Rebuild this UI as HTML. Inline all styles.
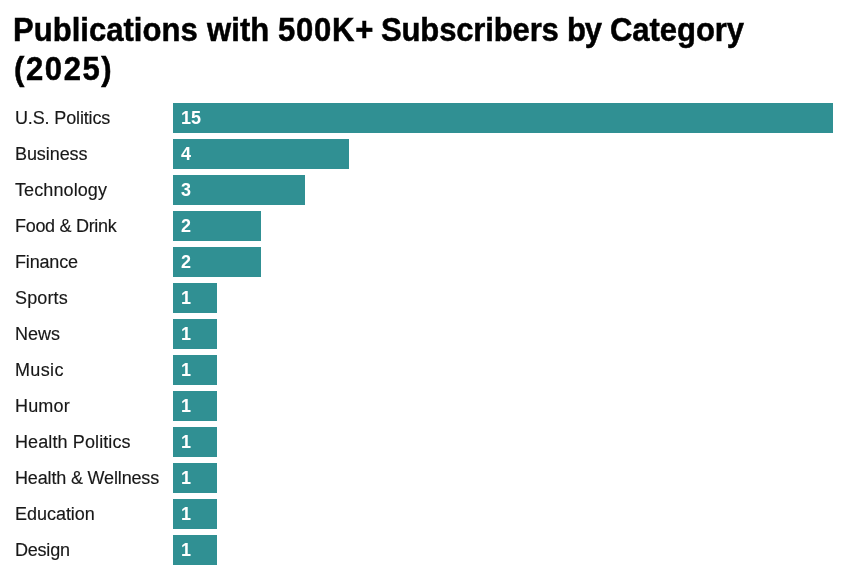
<!DOCTYPE html>
<html lang="en">
<head>
<meta charset="utf-8">
<title>Publications with 500K+ Subscribers by Category (2025)</title>
<style>
*{box-sizing:border-box;margin:0;padding:0}
html,body{width:844px;height:584px;background:#fff;overflow:hidden}
body{font-family:"Liberation Sans",sans-serif;color:#181818;position:relative}
h1{position:absolute;left:0;top:0;width:844px;height:96px;font-size:33px;font-weight:700;color:#000;-webkit-text-stroke:0.5px #000;will-change:transform}
h1 span{transform-origin:0 0;position:absolute;white-space:nowrap;line-height:40px;height:40px}
h1 .a{top:10px}
h1 .b{top:49px}
.chart{position:absolute;left:0;top:103px;width:844px}
.row{position:absolute;left:0;width:844px;height:30px}
.lbl{position:absolute;top:0;height:30px;line-height:30px;font-size:18px;white-space:nowrap;color:#181818;-webkit-text-stroke:0.15px #181818;will-change:transform}
.bar{position:absolute;left:173px;top:0;height:30px;background:#309093}
.val{position:absolute;left:8.3px;top:0;line-height:30px;font-size:18px;font-weight:700;color:#fff;will-change:transform}
</style>
</head>
<body>
<h1><span class="a" style="left:12.84px;letter-spacing:0.02px;transform:scaleX(0.9400)">Publications</span> <span class="a" style="left:206.65px;letter-spacing:0.07px;transform:scaleX(0.9400)">with</span> <span class="a" style="left:277.64px;letter-spacing:0.79px;transform:scaleX(0.9400)">500K+</span> <span class="a" style="left:380.71px;letter-spacing:-0.16px;transform:scaleX(0.9400)">Subscribers</span> <span class="a" style="left:566.78px;letter-spacing:-1.15px;transform:scaleX(0.9400)">by</span> <span class="a" style="left:610.34px;letter-spacing:-0.05px;transform:scaleX(0.9400)">Category</span> <span class="b" style="left:14.06px;letter-spacing:1.70px;transform:scaleX(0.9400)">(2025)</span></h1>
<div class="chart">
<div class="row" style="top:0px"><div class="lbl" style="left:14.70px;letter-spacing:-0.14px">U.S. Politics</div><div class="bar" style="width:660px"><span class="val">15</span></div></div>
<div class="row" style="top:36px"><div class="lbl" style="left:14.70px;letter-spacing:-0.08px">Business</div><div class="bar" style="width:176px"><span class="val">4</span></div></div>
<div class="row" style="top:72px"><div class="lbl" style="left:14.60px;letter-spacing:0.10px">Technology</div><div class="bar" style="width:132px"><span class="val">3</span></div></div>
<div class="row" style="top:108px"><div class="lbl" style="left:14.70px;letter-spacing:-0.30px">Food &amp; Drink</div><div class="bar" style="width:88px"><span class="val">2</span></div></div>
<div class="row" style="top:144px"><div class="lbl" style="left:14.70px;letter-spacing:-0.17px">Finance</div><div class="bar" style="width:88px"><span class="val">2</span></div></div>
<div class="row" style="top:180px"><div class="lbl" style="left:14.60px;letter-spacing:0.13px">Sports</div><div class="bar" style="width:44px"><span class="val">1</span></div></div>
<div class="row" style="top:216px"><div class="lbl" style="left:14.70px;letter-spacing:0.00px">News</div><div class="bar" style="width:44px"><span class="val">1</span></div></div>
<div class="row" style="top:252px"><div class="lbl" style="left:14.70px;letter-spacing:0.36px">Music</div><div class="bar" style="width:44px"><span class="val">1</span></div></div>
<div class="row" style="top:288px"><div class="lbl" style="left:14.70px;letter-spacing:0.17px">Humor</div><div class="bar" style="width:44px"><span class="val">1</span></div></div>
<div class="row" style="top:324px"><div class="lbl" style="left:14.70px;letter-spacing:0.11px">Health Politics</div><div class="bar" style="width:44px"><span class="val">1</span></div></div>
<div class="row" style="top:360px"><div class="lbl" style="left:14.70px;letter-spacing:-0.16px">Health &amp; Wellness</div><div class="bar" style="width:44px"><span class="val">1</span></div></div>
<div class="row" style="top:396px"><div class="lbl" style="left:14.70px;letter-spacing:-0.03px">Education</div><div class="bar" style="width:44px"><span class="val">1</span></div></div>
<div class="row" style="top:432px"><div class="lbl" style="left:14.70px;letter-spacing:-0.22px">Design</div><div class="bar" style="width:44px"><span class="val">1</span></div></div>
</div>
</body>
</html>
